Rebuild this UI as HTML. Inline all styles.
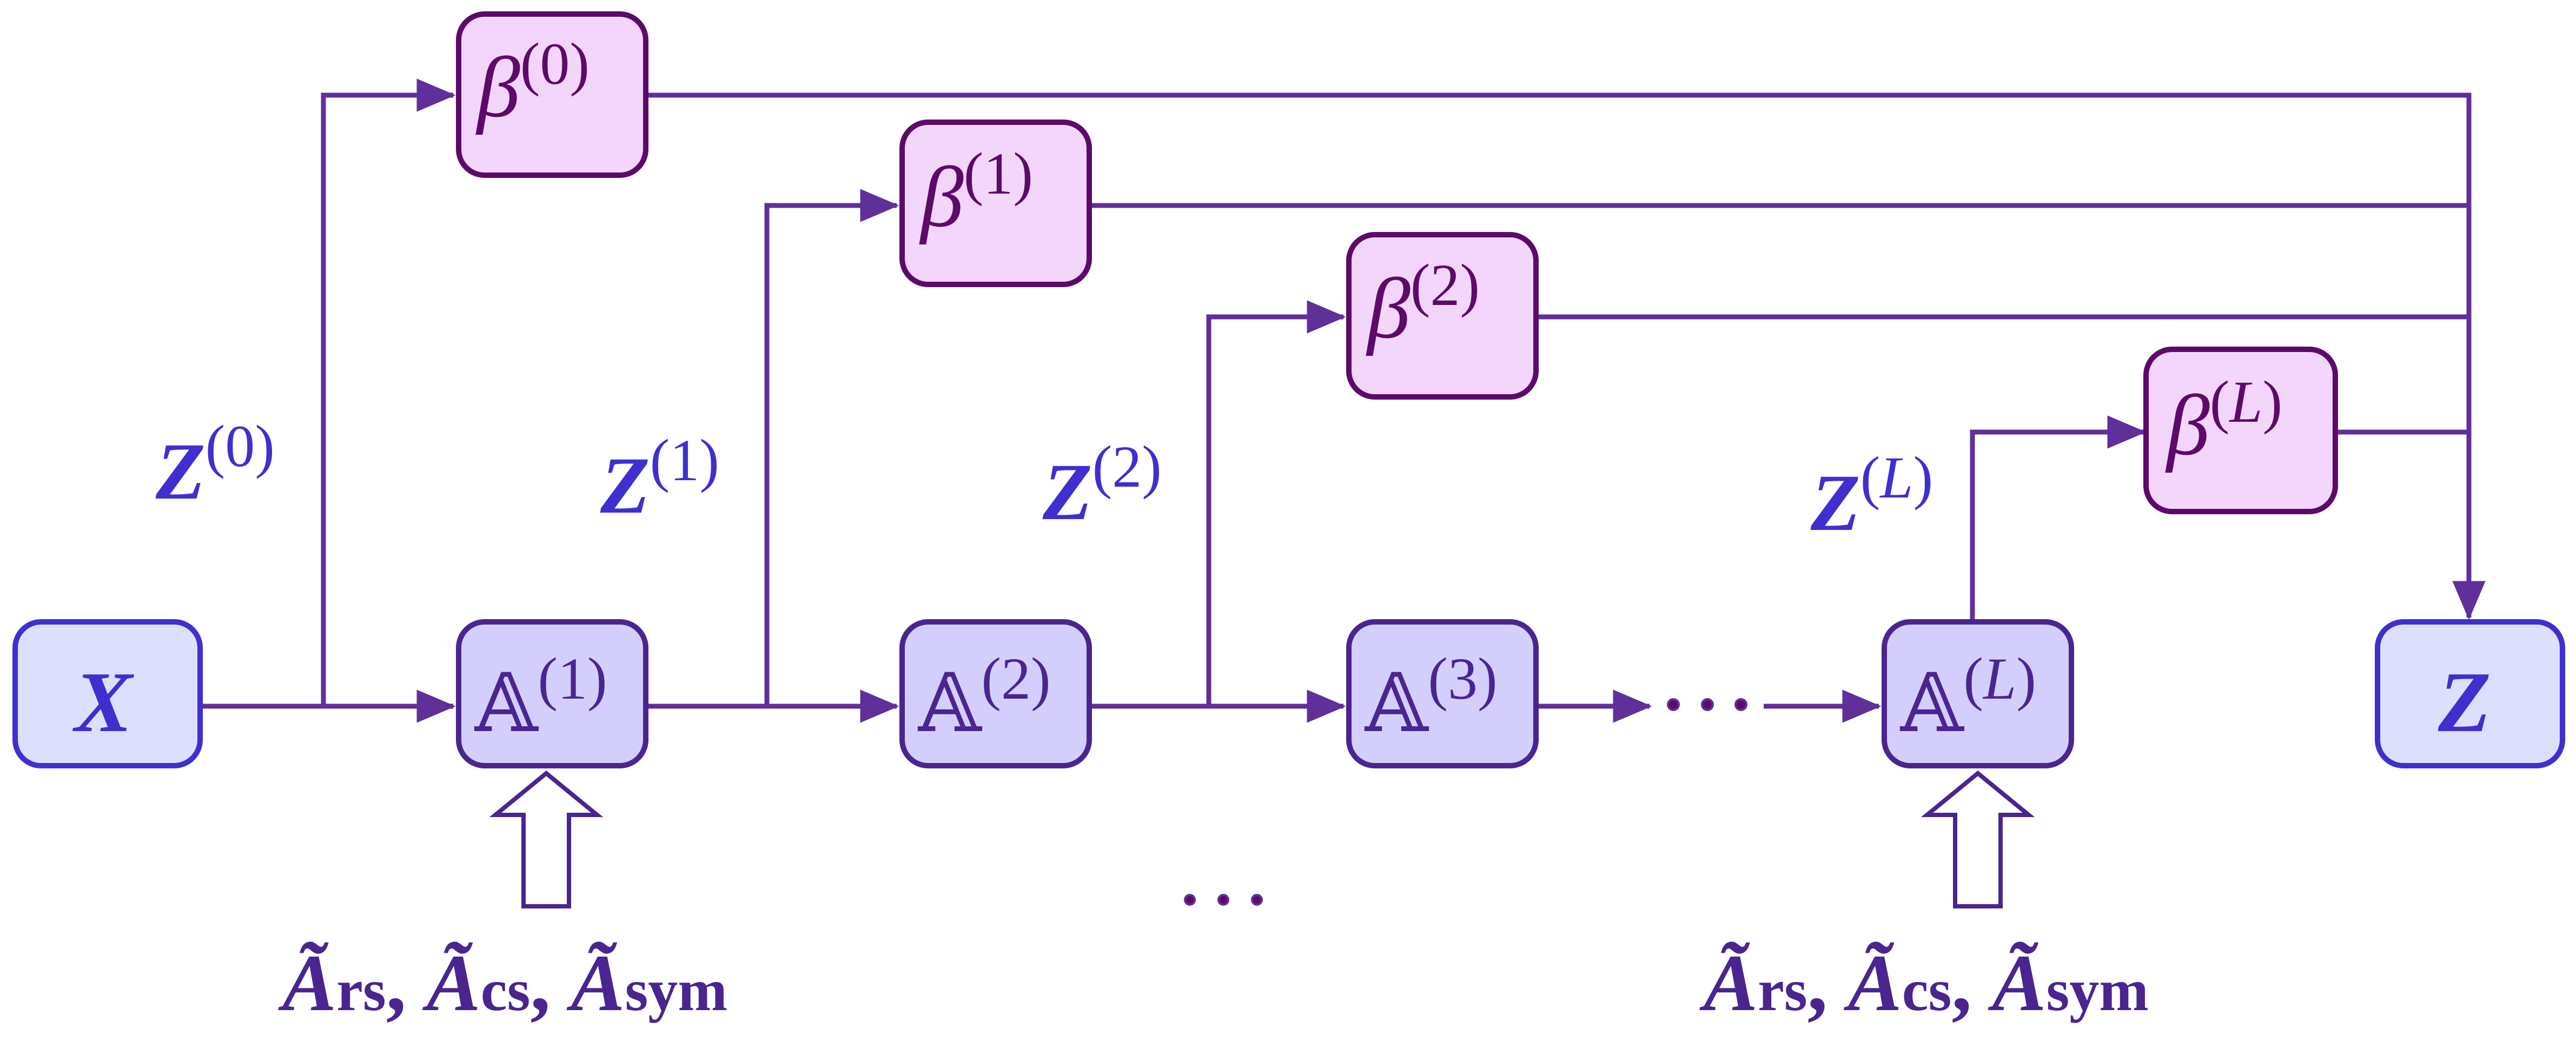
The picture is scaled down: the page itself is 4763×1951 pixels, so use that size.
<!DOCTYPE html>
<html><head><meta charset="utf-8"><style>
html,body{margin:0;padding:0;background:#fff;}
svg{display:block;}
text{font-family:"Liberation Serif","DejaVu Serif",serif;}
</style></head><body>
<svg width="4763" height="1951" viewBox="0 0 4763 1951" xmlns="http://www.w3.org/2000/svg">
<defs>
<marker id="ah" markerWidth="8" markerHeight="8" refX="7.5" refY="4" orient="auto" markerUnits="strokeWidth">
<path d="M0,0.6 L8,4 L0,7.4 Z" fill="#60309a"/>
</marker>
</defs>
<g stroke="#60309a" stroke-width="9" fill="none">
<!-- main line -->
<line x1="372" y1="1306" x2="838" y2="1306" marker-end="url(#ah)"/>
<line x1="1196" y1="1306" x2="1658" y2="1306" marker-end="url(#ah)"/>
<line x1="2016" y1="1306" x2="2484" y2="1306" marker-end="url(#ah)"/>
<line x1="2842" y1="1306" x2="3050" y2="1306" marker-end="url(#ah)"/>
<line x1="3261" y1="1306" x2="3474" y2="1306" marker-end="url(#ah)"/>
<!-- branches -->
<polyline points="598,1306 598,176 838,176" marker-end="url(#ah)"/>
<polyline points="1418,1306 1418,380 1658,380" marker-end="url(#ah)"/>
<polyline points="2235,1306 2235,586 2484,586" marker-end="url(#ah)"/>
<polyline points="3647,1148 3647,799 3964,799" marker-end="url(#ah)"/>
<!-- outputs -->
<polyline points="1196,176 4565,176 4565,1142" marker-end="url(#ah)"/>
<line x1="2016" y1="380" x2="4565" y2="380"/>
<line x1="2842" y1="586" x2="4565" y2="586"/>
<line x1="4322" y1="799" x2="4565" y2="799"/>
</g>
<g fill="#5c0a6a" stroke="#60309a" stroke-width="4">
<circle cx="3094" cy="1303" r="10"/><circle cx="3157" cy="1303" r="10"/><circle cx="3219" cy="1303" r="10"/>
<circle cx="2200" cy="1664" r="9"/><circle cx="2262" cy="1664" r="9"/><circle cx="2324" cy="1664" r="9"/>
</g>
<!-- boxes -->
<g stroke-width="10">
<rect x="28" y="1150" width="342" height="266" rx="48" fill="#dde0fc" stroke="#3f2fd0"/>
<rect x="4396" y="1150" width="342" height="266" rx="48" fill="#dde0fc" stroke="#3f2fd0"/>
<rect x="848" y="1150" width="346" height="266" rx="48" fill="#d4cefc" stroke="#4a2590"/>
<rect x="1668" y="1150" width="346" height="266" rx="48" fill="#d4cefc" stroke="#4a2590"/>
<rect x="2494" y="1150" width="346" height="266" rx="48" fill="#d4cefc" stroke="#4a2590"/>
<rect x="3484" y="1150" width="346" height="266" rx="48" fill="#d4cefc" stroke="#4a2590"/>
<rect x="848" y="26" width="346" height="298" rx="48" fill="#f4d6fc" stroke="#5c0a6a"/>
<rect x="1668" y="226" width="346" height="300" rx="48" fill="#f4d6fc" stroke="#5c0a6a"/>
<rect x="2494" y="434" width="346" height="300" rx="48" fill="#f4d6fc" stroke="#5c0a6a"/>
<rect x="3968" y="646" width="350" height="300" rx="48" fill="#f4d6fc" stroke="#5c0a6a"/>
</g>
<!-- block arrows -->
<g fill="#fff" stroke="#4a2590" stroke-width="8">
<path d="M1010,1430 L1104,1507 L1052,1507 L1052,1676 L968,1676 L968,1507 L916,1507 Z"/>
<path d="M3657,1430 L3751,1507 L3699,1507 L3699,1676 L3615,1676 L3615,1507 L3563,1507 Z"/>
</g>
<!-- box labels -->
<g font-weight="bold" font-style="italic" fill="#3f2fd0" font-size="160">
<text x="138" y="1352">X</text>
<text x="4508" y="1352">Z</text>
</g>
<g fill="#4a2590" font-size="150">
<text x="878" y="1352">𝔸<tspan font-size="110" dy="-60">(1)</tspan></text>
<text x="1698" y="1352">𝔸<tspan font-size="110" dy="-60">(2)</tspan></text>
<text x="2524" y="1352">𝔸<tspan font-size="110" dy="-60">(3)</tspan></text>
<text x="3514" y="1352">𝔸<tspan font-size="110" dy="-60">(<tspan font-style="italic">L</tspan>)</tspan></text>
</g>
<g fill="#5c0a6a" font-size="160" font-style="italic">
<text x="882" y="215">β<tspan font-style="normal" font-size="110" dy="-60">(0)</tspan></text>
<text x="1702" y="418">β<tspan font-style="normal" font-size="110" dy="-60">(1)</tspan></text>
<text x="2528" y="624">β<tspan font-style="normal" font-size="110" dy="-60">(2)</tspan></text>
<text x="4006" y="840">β<tspan font-style="normal" font-size="110" dy="-60">(<tspan font-style="italic">L</tspan>)</tspan></text>
</g>
<!-- Z labels -->
<g fill="#3f2fd0" font-size="150">
<text x="288" y="922" font-weight="bold" font-style="italic">Z<tspan font-weight="normal" font-style="normal" font-size="110" dy="-60">(0)</tspan></text>
<text x="1110" y="948" font-weight="bold" font-style="italic">Z<tspan font-weight="normal" font-style="normal" font-size="110" dy="-60">(1)</tspan></text>
<text x="1928" y="960" font-weight="bold" font-style="italic">Z<tspan font-weight="normal" font-style="normal" font-size="110" dy="-60">(2)</tspan></text>
<text x="3348" y="980" font-weight="bold" font-style="italic">Z<tspan font-weight="normal" font-style="normal" font-size="110" dy="-60">(<tspan font-style="italic">L</tspan>)</tspan></text>
</g>
<!-- bottom labels -->
<g fill="#4a2590" font-size="150" font-weight="bold">
<text x="522" y="1868"><tspan font-style="italic">Ã</tspan><tspan font-size="110">rs</tspan>, <tspan font-style="italic">Ã</tspan><tspan font-size="110">cs</tspan>, <tspan font-style="italic">Ã</tspan><tspan font-size="110">sym</tspan></text>
<text x="3150" y="1868"><tspan font-style="italic">Ã</tspan><tspan font-size="110">rs</tspan>, <tspan font-style="italic">Ã</tspan><tspan font-size="110">cs</tspan>, <tspan font-style="italic">Ã</tspan><tspan font-size="110">sym</tspan></text>
</g>
</svg>
</body></html>
